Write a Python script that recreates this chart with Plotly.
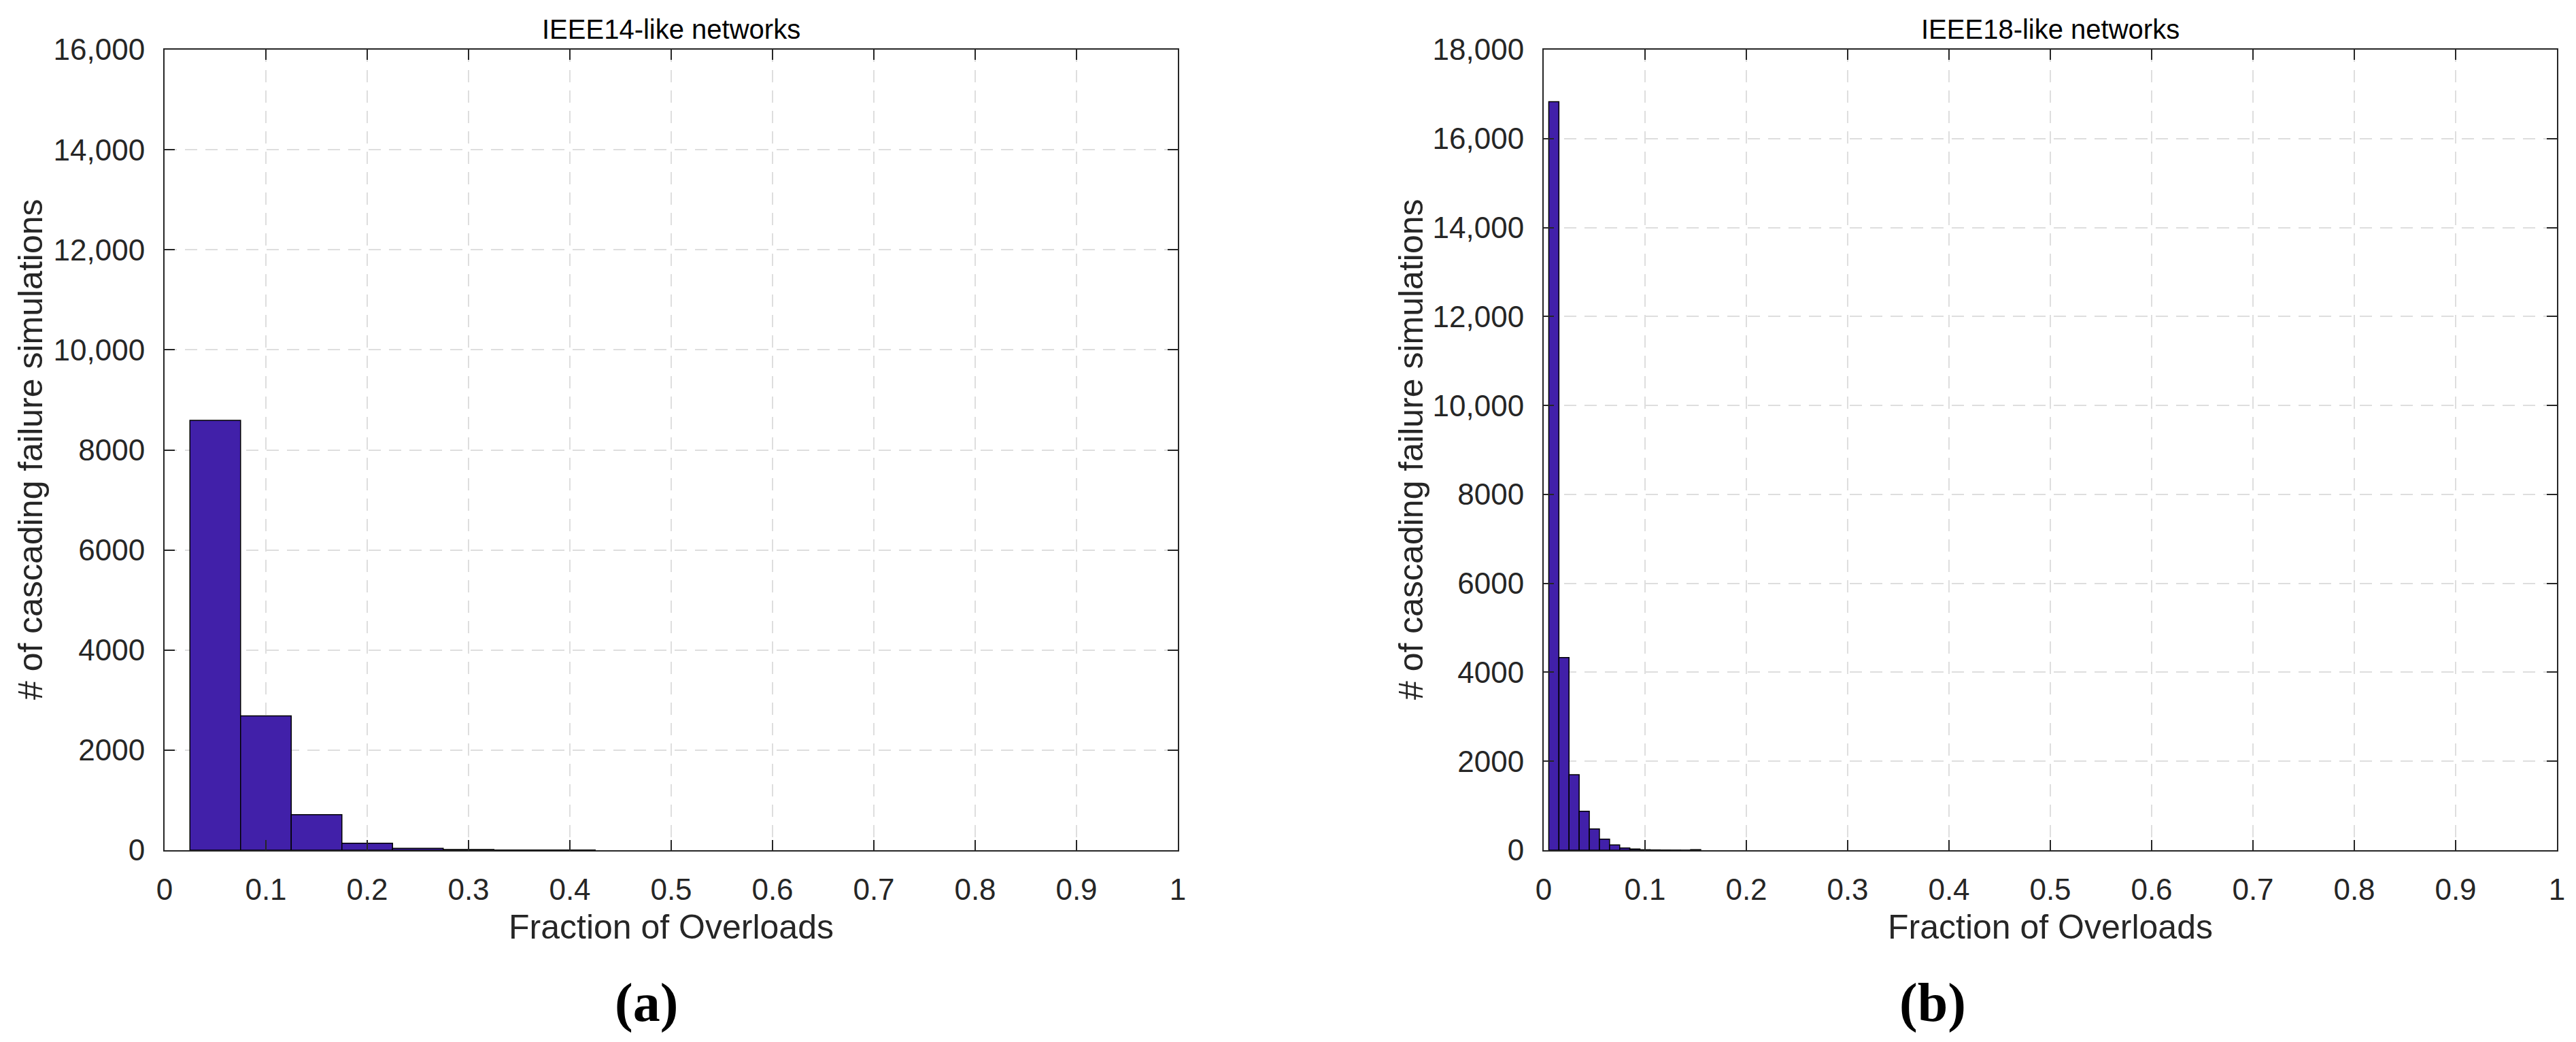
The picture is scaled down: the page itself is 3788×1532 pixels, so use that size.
import plotly.graph_objects as go

# ---------------- data ----------------
# IEEE14-like networks (bin centers, width 0.05)
ieee14_centers = [0.05, 0.10, 0.15, 0.20, 0.25, 0.30, 0.35, 0.40]
ieee14_counts = [8590, 2685, 710, 140, 38, 12, 5, 2]
ieee14_width = 0.05

# IEEE18-like networks (bin centers, width 0.01)
ieee18_centers = [0.01, 0.02, 0.03, 0.04, 0.05, 0.06, 0.07, 0.08, 0.09, 0.10,
                  0.11, 0.12, 0.13, 0.14, 0.15]
ieee18_counts = [16830, 4330, 1697, 876, 479, 250, 117, 51, 25, 10,
                 6, 4, 3, 2, 12]
ieee18_width = 0.01

x_tickvals = [0, 0.1, 0.2, 0.3, 0.4, 0.5, 0.6, 0.7, 0.8, 0.9, 1]
x_ticktext = ["0", "0.1", "0.2", "0.3", "0.4", "0.5", "0.6", "0.7", "0.8", "0.9", "1"]
y1_tickvals = [0, 2000, 4000, 6000, 8000, 10000, 12000, 14000, 16000]
y1_ticktext = ["0", "2000", "4000", "6000", "8000", "10,000", "12,000", "14,000", "16,000"]
y2_tickvals = [0, 2000, 4000, 6000, 8000, 10000, 12000, 14000, 16000, 18000]
y2_ticktext = ["0", "2000", "4000", "6000", "8000", "10,000", "12,000", "14,000", "16,000", "18,000"]

titles = ["IEEE14-like networks", "IEEE18-like networks"]
x_title = "Fraction of Overloads"
y_title = "# of cascading failure simulations"
panel_labels = ["(a)", "(b)"]

# ---------------- style ----------------
OFF = 8                      # default page body margin
W, H = 3788 - 2 * OFF, 1532 - 2 * OFF
BAR = "#4120A9"
AX = "#262626"
GRID = "#dedede"
FONT = "Liberation Sans, Arial, sans-serif"

def px_x(p):
    return (p - OFF) / W

def px_y(p):
    return 1 - (p - OFF) / H

fig = go.Figure()
fig.add_trace(go.Bar(x=ieee14_centers, y=ieee14_counts,
                     width=[ieee14_width] * len(ieee14_centers),
                     marker=dict(color=BAR, line=dict(color="#000000", width=1.5)),
                     xaxis="x", yaxis="y", showlegend=False))
fig.add_trace(go.Bar(x=ieee18_centers, y=ieee18_counts,
                     width=[ieee18_width] * len(ieee18_centers),
                     marker=dict(color=BAR, line=dict(color="#000000", width=1.5)),
                     xaxis="x2", yaxis="y2", showlegend=False))

common_axis = dict(
    showline=True, linecolor=AX, linewidth=2, mirror="ticks",
    ticks="inside", ticklen=15, tickwidth=2, tickcolor=AX,
    showgrid=True, gridcolor=GRID, gridwidth=2, griddash="18px,12px",
    zeroline=False, automargin=False,
    tickfont=dict(family=FONT, size=44, color=AX),
)

x1_dom = [px_x(242), px_x(1732)]
x2_dom = [px_x(2270), px_x(3760)]
y_dom = [px_y(1250), px_y(73)]

fig.update_layout(
    template="none",
    width=W, height=H,
    margin=dict(l=0, r=0, t=0, b=0, pad=0, autoexpand=False),
    paper_bgcolor="white", plot_bgcolor="white",
    barmode="overlay",
    xaxis=dict(domain=x1_dom, anchor="y", range=[0, 1],
               tickvals=x_tickvals, ticktext=x_ticktext, ticklabelstandoff=18,
               **common_axis),
    yaxis=dict(domain=y_dom, anchor="x", range=[0, 16000],
               tickvals=y1_tickvals, ticktext=y1_ticktext, ticklabelstandoff=18,
               **common_axis),
    xaxis2=dict(domain=x2_dom, anchor="y2", range=[0, 1],
                tickvals=x_tickvals, ticktext=x_ticktext, ticklabelstandoff=18,
                **common_axis),
    yaxis2=dict(domain=y_dom, anchor="x2", range=[0, 18000],
                tickvals=y2_tickvals, ticktext=y2_ticktext, ticklabelstandoff=18,
                **common_axis),
)

annos = []
for i, (dom, ytx) in enumerate([(x1_dom, 45), (x2_dom, 2075)]):
    cx = (dom[0] + dom[1]) / 2
    annos.append(dict(text=titles[i], x=cx, y=px_y(43), xref="paper", yref="paper",
                      xanchor="center", yanchor="middle", showarrow=False,
                      font=dict(family=FONT, size=40, color="#000000")))
    annos.append(dict(text=x_title, x=cx, y=px_y(1363), xref="paper", yref="paper",
                      xanchor="center", yanchor="middle", showarrow=False,
                      font=dict(family=FONT, size=50, color=AX)))
    annos.append(dict(text=y_title, x=px_x(ytx), y=px_y(661), xref="paper", yref="paper",
                      xanchor="center", yanchor="middle", showarrow=False, textangle=-90,
                      font=dict(family=FONT, size=50, color=AX)))
annos.append(dict(text="<b>(a)</b>", x=px_x(950), y=px_y(1474), xref="paper", yref="paper",
                  xanchor="center", yanchor="middle", showarrow=False,
                  font=dict(family="Liberation Serif, Times New Roman, serif", size=80, color="#000000")))
annos.append(dict(text="<b>(b)</b>", x=px_x(2842), y=px_y(1474), xref="paper", yref="paper",
                  xanchor="center", yanchor="middle", showarrow=False,
                  font=dict(family="Liberation Serif, Times New Roman, serif", size=80, color="#000000")))
fig.update_layout(annotations=annos)

fig.write_html("out.html")
